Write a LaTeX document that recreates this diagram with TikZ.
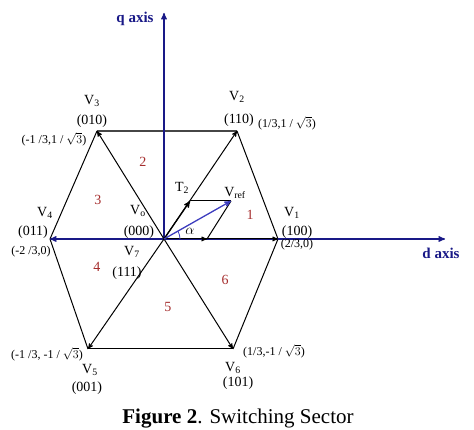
\documentclass[tikz,border=0pt]{standalone}
\usepackage{fontspec}
\setmainfont{Liberation Serif}
\usepackage{tikz}
\usetikzlibrary{arrows,positioning}
\definecolor{axisblue}{RGB}{25,25,135}
\definecolor{refblue}{RGB}{60,60,190}
\definecolor{sectorred}{RGB}{165,45,45}
\definecolor{edgegray}{RGB}{70,70,70}

\begin{document}
\begin{tikzpicture}[x=1pt, y=1pt, >=stealth',
    lbl/.style={inner sep=0pt, font=\fontsize{14}{14}\selectfont},
    coordlbl/.style={inner sep=0pt, font=\fontsize{12}{12}\selectfont},
    sector/.style={inner sep=0pt, text=sectorred, font=\fontsize{14}{14}\selectfont},
    axislbl/.style={inner sep=0pt, text=axisblue, font=\fontsize{15}{15}\selectfont\bfseries},
    axis/.style={->, axisblue, line width=1.3pt},
    arrow/.style={->, line width=1pt},
    edge/.style={line width=1pt}]
    \useasboundingbox (-164,-191) rectangle (310,239);

    \coordinate (o) at (0,0);
    \coordinate (v1) at (114,0);
    \coordinate (v2) at (73,108);
    \coordinate (v3) at (-67,108);
    \coordinate (v4) at (-114,0);
    \coordinate (v5) at (-76,-110);
    \coordinate (v6) at (69,-110);
    \coordinate (t1) at (43,0);
    \coordinate (t2) at (26,38);
    \coordinate (vr) at (67,38);
    \coordinate (dend) at (281,0);
    \coordinate (qend) at (0,226);

    \draw[edge] (v1) -- (v2);
    \draw[edge, edgegray, line width=1.6pt] (v2) -- (v3);
    \draw[edge] (v3) -- (v4);
    \draw[edge] (v4) -- (v5);
    \draw[edge] (v5) -- (v6);
    \draw[edge] (v6) -- (v1);

    \draw[axis] (o) -- (dend);
    \draw[axis] (o) -- (qend);
    \draw[axis] (o) -- (v4);
    \draw[arrow] (o) -- (v1);
    \draw[arrow] (o) -- (v2);
    \draw[arrow] (o) -- (v3);
    \draw[arrow] (o) -- (v5);
    \draw[arrow] (o) -- (v6);

    \draw[arrow, line width=1.3pt] (o) -- (t2);
    \draw[arrow] (o) -- (t1);
    \draw[edge] (t2) -- (vr);
    \draw[edge] (vr) -- (t1);
    \draw[->, refblue, line width=1.3pt] (o) -- (vr);
    \draw[refblue, line width=0.8pt] (16,0) arc (0:29.6:16);

    \node[axislbl] (qlbl) at (-29,220) {q axis};
    \node[axislbl] (dlbl) at (277,-14) {d axis};

    \node[lbl] (b1) at (133,7) {(100)};
    \node[lbl] (n1) at (128,26) {V\textsubscript{1}};
    \node[coordlbl] (c1) at (133,-6) {(2/3,0)};

    \node[lbl] (b2) at (75,119) {(110)};
    \node[lbl] (n2) at (73,142) {V\textsubscript{2}};
    \node[coordlbl] (c2) at (123,116) {(1/3,1 / $\sqrt{3}$)};

    \node[lbl] (b3) at (-72,118) {(010)};
    \node[lbl] (n3) at (-72,138) {V\textsubscript{3}};
    \node[coordlbl] (c3) at (-110,100) {(-1 /3,1 / $\sqrt{3}$)};

    \node[lbl] (b4) at (-131,7) {(011)};
    \node[lbl] (n4) at (-119,26) {V\textsubscript{4}};
    \node[coordlbl] (c4) at (-133,-13) {(-2 /3,0)};

    \node[lbl] (b5) at (-77,-149) {(001)};
    \node[lbl] (n5) at (-74,-131) {V\textsubscript{5}};
    \node[coordlbl] (c5) at (-117,-115) {(-1 /3, -1 / $\sqrt{3}$)};

    \node[lbl] (b6) at (74,-144) {(101)};
    \node[lbl] (n6) at (69,-129) {V\textsubscript{6}};
    \node[coordlbl] (c6) at (110,-112) {(1/3,-1 / $\sqrt{3}$)};

    \node[lbl] (b0) at (-25,7) {(000)};
    \node[lbl] (n0) at (-26,28) {V\textsubscript{o}};
    \node[lbl] (n7) at (-32,-13) {V\textsubscript{7}};
    \node[lbl] (b7) at (-37,-34) {(111)};

    \node[lbl] (nt2) at (18,51) {T\textsubscript{2}};
    \node[lbl] (nvr) at (71,46) {V\textsubscript{ref}};
    \node[lbl] (alpha) at (26,8) {$\alpha$};

    \node[sector] (s1) at (86,24) {1};
    \node[sector] (s2) at (-21,77) {2};
    \node[sector] (s3) at (-66,39) {3};
    \node[sector] (s4) at (-67,-28) {4};
    \node[sector] (s5) at (4,-68) {5};
    \node[sector] (s6) at (61,-41) {6};

    \node[inner sep=0pt, font=\fontsize{21}{21}\selectfont] (caption) at (74,-180) {\textbf{Figure 2}. Switching Sector};
\end{tikzpicture}
\end{document}
